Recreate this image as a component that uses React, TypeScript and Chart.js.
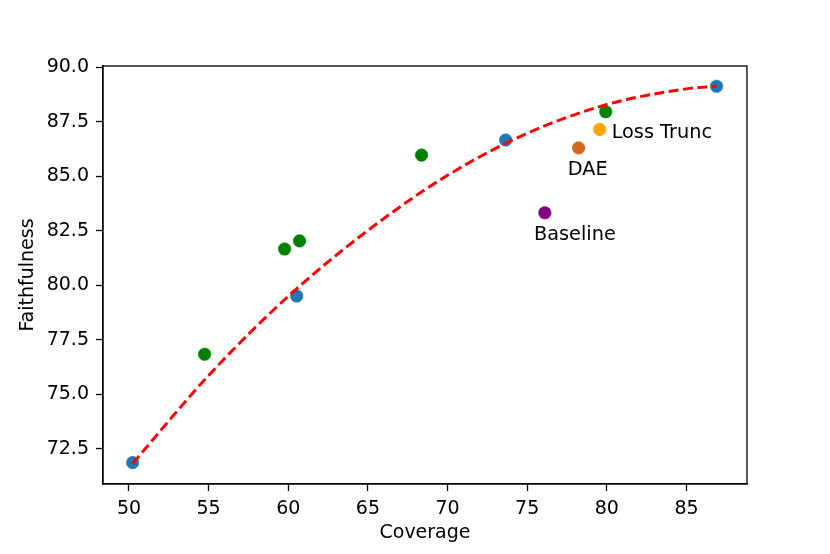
import React, { useEffect, useRef } from "react";
import { Chart, registerables } from "chart.js";

Chart.register(...registerables);

// Blue points (sweep)
const blueX = [50.23, 60.53, 73.65, 86.89];
const blueY = [71.86, 79.51, 86.67, 89.14];
// Green points
const greenX = [54.75, 59.77, 60.71, 68.37, 79.93];
const greenY = [76.84, 81.67, 82.04, 85.98, 87.97];
// Named methods
const methodNames = ["Loss Trunc", "DAE", "Baseline"];
const methodX = [79.55, 78.23, 76.11];
const methodY = [87.16, 86.31, 83.33];
const methodColors = ["#FFA500", "#D2691E", "#800080"];
// Fitted curve
const fitX = [50.23, 55, 60, 65, 70, 75, 80, 85, 86.89];
const fitY = [71.82, 75.86, 79.5, 82.52, 85.05, 86.98, 88.3, 89.02, 89.14];
// Ticks
const xTicks = [50, 55, 60, 65, 70, 75, 80, 85];
const yTicks = [72.5, 75.0, 77.5, 80.0, 82.5, 85.0, 87.5, 90.0];

const FONT = "'DejaVu Sans', sans-serif";

export default function App() {
  const ref = useRef<HTMLCanvasElement | null>(null);
  useEffect(() => {
    if (!ref.current) return;
    const labelOffsets: [number, number, CanvasTextAlign][] = [
      [12, 3.2, "left"],
      [9, 22.3, "center"],
      [30, 22.6, "center"],
    ];
    const framePlugin = {
      id: "frame",
      afterDatasetsDraw(chart: any) {
        const { ctx, chartArea, scales } = chart;
        ctx.save();
        ctx.strokeStyle = "#000";
        ctx.lineWidth = 1.3;
        ctx.strokeRect(chartArea.left, chartArea.top, chartArea.right - chartArea.left, chartArea.bottom - chartArea.top);
        ctx.fillStyle = "#000";
        ctx.font = "19.3px " + FONT;
        ctx.textBaseline = "middle";
        methodNames.forEach((name, i) => {
          const px = scales.x.getPixelForValue(methodX[i]);
          const py = scales.y.getPixelForValue(methodY[i]);
          const [dx, dy, align] = labelOffsets[i];
          ctx.textAlign = align;
          ctx.fillText(name, px + dx, py + dy);
        });
        ctx.restore();
      },
    };
    const chart = new Chart(ref.current, {
      type: "scatter",
      data: {
        datasets: [
          {
            type: "line",
            data: fitX.map((x, i) => ({ x, y: fitY[i] })),
            borderColor: "#ff0000",
            borderWidth: 3,
            borderDash: [10, 4.5],
            pointRadius: 0,
            cubicInterpolationMode: "monotone",
            fill: false,
          } as any,
          {
            data: blueX.map((x, i) => ({ x, y: blueY[i] })),
            backgroundColor: "#1f77b4",
            borderColor: "#1f77b4",
            pointRadius: 6.3,
            borderWidth: 0.5,
          },
          {
            data: greenX.map((x, i) => ({ x, y: greenY[i] })),
            backgroundColor: "#008000",
            borderColor: "#008000",
            pointRadius: 6.3,
            borderWidth: 0.5,
          },
          ...methodNames.map((n, i) => ({
            label: n,
            data: [{ x: methodX[i], y: methodY[i] }],
            backgroundColor: methodColors[i],
            borderColor: methodColors[i],
            pointRadius: 6.3,
            borderWidth: 0.5,
          })),
        ],
      },
      options: {
        animation: false,
        responsive: false,
        maintainAspectRatio: false,
        layout: { padding: { top: 66, right: 83, left: 0, bottom: 0 } },
        plugins: { legend: { display: false }, tooltip: { enabled: false } },
        scales: {
          x: {
            type: "linear",
            min: 48.37,
            max: 88.8,
            afterBuildTicks: (s: any) => {
              s.ticks = xTicks.map((v) => ({ value: v }));
            },
            afterFit: (s: any) => {
              s.height = 70;
            },
            grid: { drawOnChartArea: false, drawTicks: true, tickLength: 7, tickColor: "#000", tickWidth: 1.3 },
            border: { display: true, color: "#000", width: 1.3 },
            ticks: { color: "#000", font: { family: FONT, size: 19 }, padding: 7, maxRotation: 0, callback: (v: any) => String(v) },
            title: { display: true, text: "Coverage", color: "#000", font: { family: FONT, size: 19 }, padding: { top: 0, bottom: 9.6 } },
          },
          y: {
            type: "linear",
            min: 70.88,
            max: 90.07,
            afterBuildTicks: (s: any) => {
              s.ticks = yTicks.map((v) => ({ value: v }));
            },
            afterFit: (s: any) => {
              s.width = 103;
            },
            grid: { drawOnChartArea: false, drawTicks: true, tickLength: 7, tickColor: "#000", tickWidth: 1.3 },
            border: { display: true, color: "#000", width: 1.3 },
            ticks: { color: "#000", font: { family: FONT, size: 19 }, padding: 7, callback: (v: any) => Number(v).toFixed(1) },
            title: { display: true, text: "Faithfulness", color: "#000", font: { family: FONT, size: 19 }, padding: { top: 17, bottom: 0 } },
          },
        },
      },
      plugins: [framePlugin],
    } as any);
    return () => chart.destroy();
  }, []);
  return (
    <div style={{ position: "absolute", left: 0, top: 0, width: 830, height: 554, background: "#fff" }}>
      <canvas ref={ref} width={830} height={554} style={{ width: 830, height: 554 }} />
    </div>
  );
}
